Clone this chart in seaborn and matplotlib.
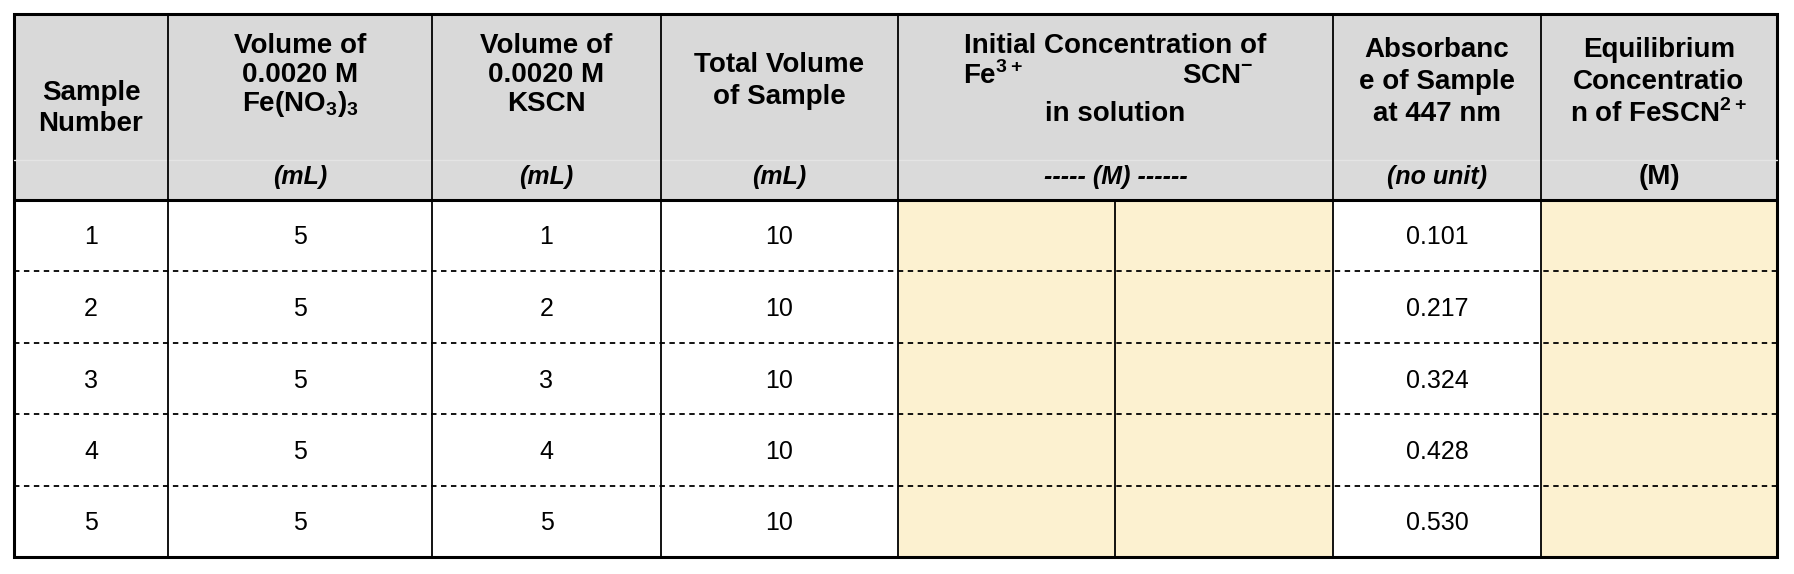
import matplotlib
matplotlib.use("Agg")
import matplotlib.pyplot as plt
import seaborn as sns
from matplotlib.patches import Rectangle

sns.set_theme(style="white")
plt.rcParams['font.family'] = ['Liberation Sans', 'DejaVu Sans']
plt.rcParams['mathtext.fontset'] = 'custom'
plt.rcParams['mathtext.rm'] = 'Liberation Sans:bold'
plt.rcParams['mathtext.bf'] = 'Liberation Sans:bold'

sample_numbers = [1, 2, 3, 4, 5]
vol_fe = [5, 5, 5, 5, 5]
vol_kscn = [1, 2, 3, 4, 5]
total_vol = [10, 10, 10, 10, 10]
absorbance = ["0.101", "0.217", "0.324", "0.428", "0.530"]

W, H = 1794, 574
fig = plt.figure(figsize=(W/100, H/100), dpi=100)
ax = fig.add_axes([0, 0, 1, 1])
ax.set_xlim(0, W); ax.set_ylim(H, 0); ax.axis('off')

xs = [14, 168, 432, 661, 898, 1333, 1541, 1777]
xsub = 1115
top, band, hb = 14, 160, 200
rows = [200, 271, 343, 414, 486, 557]
grey = '#d9d9d9'; yellow = '#fcf1d0'

ax.add_patch(Rectangle((xs[0], top), xs[-1]-xs[0], band-top, color=grey, lw=0))
ax.add_patch(Rectangle((xs[0], band), xs[-1]-xs[0], hb-band, color='#dadada', lw=0))
for x0, x1 in [(xs[4], xs[5]), (xs[6], xs[7])]:
    ax.add_patch(Rectangle((x0, hb), x1-x0, rows[-1]-hb, color=yellow, lw=0))
ax.plot([xs[0], xs[-1]], [band, band], color='#e4e4e4', lw=1)

for x in xs[1:-1]:
    ax.plot([x, x], [top, rows[-1]], color='black', lw=1.3)
ax.plot([xsub, xsub], [hb, rows[-1]], color='black', lw=1.3)
for y in rows[1:-1]:
    ax.plot([xs[0], xs[-1]], [y, y], color='black', lw=1.3, ls=(0, (3, 2.5)))
ax.plot([xs[0], xs[-1]], [hb, hb], color='black', lw=2.2)
ax.add_patch(Rectangle((xs[0], top), xs[-1]-xs[0], rows[-1]-top, fill=False, ec='black', lw=2.2))

def cx(i): return (xs[i]+xs[i+1])/2
hk = dict(ha='center', va='center', fontsize=20, fontweight='bold', color='black')
ik = dict(ha='center', va='center', fontsize=18, fontweight='bold', style='italic', color='black')

ax.text(cx(0), 93, "Sample", **hk); ax.text(cx(0), 124, "Number", **hk)
for i, l in [(1, "Volume of"), (2, "Volume of")]:
    ax.text(cx(i), 46, l, **hk); ax.text(cx(i), 75, "0.0020 M", **hk)
ax.text(cx(1), 104, r"Fe(NO$_3$)$_3$", **hk)
ax.text(cx(2), 104, "KSCN", **hk)
ax.text(cx(3), 65, "Total Volume", **hk); ax.text(cx(3), 97, "of Sample", **hk)
ax.text(cx(4), 46, "Initial Concentration of", **hk)
ax.text(993, 76, r"Fe$^{3+}$", **hk)
ax.text(1218, 76, r"SCN$^{-}$", **hk)
ax.text(cx(4), 114, "in solution", **hk)
ax.text(cx(5), 50, "Absorbanc", **hk); ax.text(cx(5), 82, "e of Sample", **hk); ax.text(cx(5), 114, "at 447 nm", **hk)
ax.text(cx(6), 50, "Equilibrium", **hk); ax.text(cx(6), 82, "Concentratio", **hk); ax.text(cx(6), 114, r"n of FeSCN$^{2+}$", **hk)
for i in [1, 2, 3]:
    ax.text(cx(i), 177, "(mL)", **ik)
ax.text(cx(4), 177, "----- (M) ------", **ik)
ax.text(cx(5), 177, "(no unit)", **ik)
ax.text(cx(6), 177, "(M)", **hk)

bk = dict(ha='center', va='center', fontsize=18, color='black')
for r in range(5):
    yc = (rows[r]+rows[r+1])/2 + 2
    ax.text(cx(0), yc, str(sample_numbers[r]), **bk)
    ax.text(cx(1), yc, str(vol_fe[r]), **bk)
    ax.text(cx(2), yc, str(vol_kscn[r]), **bk)
    ax.text(cx(3), yc, str(total_vol[r]), **bk)
    ax.text(cx(5), yc, absorbance[r], **bk)

fig.savefig("out.png", dpi=100, facecolor='white')
